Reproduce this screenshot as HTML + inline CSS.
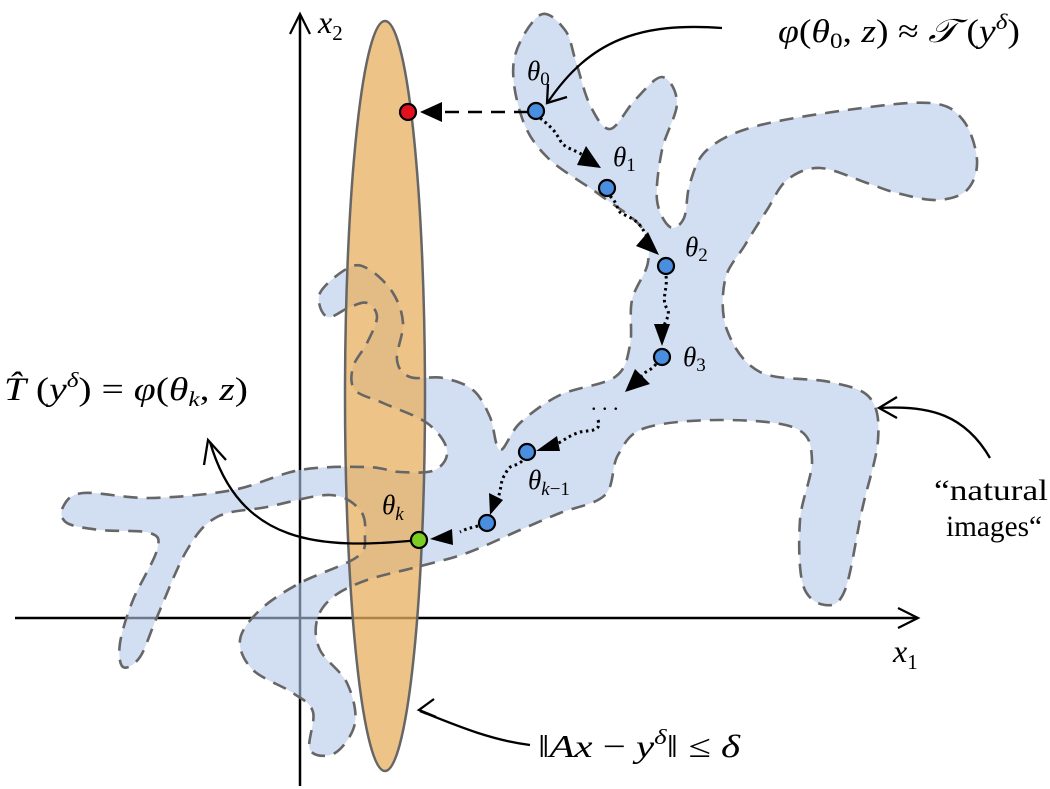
<!DOCTYPE html>
<html><head><meta charset="utf-8">
<style>
html,body{margin:0;padding:0;background:#fff;}
svg{display:block;}
text{font-family:"Liberation Serif",serif;fill:#000;}
.it{font-style:italic;}
</style></head>
<body>
<svg id="s" width="1050" height="789" viewBox="0 0 1050 789" xmlns="http://www.w3.org/2000/svg">
<!-- axes -->
<line x1="300" y1="786" x2="300" y2="16" stroke="#000" stroke-width="2.5"/>
<polyline points="290,34 300,14 310,34" fill="none" stroke="#000" stroke-width="2.2"/>
<line x1="15" y1="618" x2="918" y2="618" stroke="#000" stroke-width="2.5"/>
<polyline points="898,608 918,618 898,628" fill="none" stroke="#000" stroke-width="2.2"/>

<path id="blobfill" d="" fill="rgb(180,200,232)" fill-opacity="0.6"/>
<ellipse cx="385" cy="396" rx="40" ry="375" fill="rgb(232,175,95)" fill-opacity="0.75" stroke="#666" stroke-width="2.5"/>
<path id="blobline" d="" fill="none" stroke="#666" stroke-width="2.6" stroke-dasharray="14 9"/>

<!-- dashed arrow to red -->
<line x1="528" y1="112" x2="440" y2="112" stroke="#000" stroke-width="2.5" stroke-dasharray="14 9"/>
<polygon points="420,112 442,102 442,122" fill="#000"/>

<!-- dotted wavy paths -->
<g fill="none" stroke="#000" stroke-width="3" stroke-dasharray="2.5 3.5">
<path d="M540,118 C555,130 555,132 560,140 C565,150 575,148 590,160"/>
<path d="M610,196 C620,205 615,212 625,215 C640,222 640,225 648,238"/>
<path d="M666,276 C668,290 660,300 668,310 C670,318 663,322 664,330"/>
<path d="M656,364 C650,372 645,370 640,378"/>
<path d="M598,420 C602,432 590,430 580,432 C568,436 565,440 555,445"/>
<path d="M522,461 C515,468 510,462 505,475 C500,480 502,490 497,500"/>
<path d="M478,526 C470,528 468,528 460,532"/>
</g>
<g fill="#000">
<polygon points="601,168 586,146 577,165"/>
<polygon points="659,255 648,232 636,246"/>
<polygon points="662,346 654,324 670,324"/>
<polygon points="625,392 650,384 635,369"/>
<polygon points="536,451 557,436 560,451"/>
<polygon points="490,515 489,493 503,500"/>
<polygon points="430,539 452,529 453,545"/>
</g>
<text x="591" y="410" style="font-size:22px">. . .</text>

<!-- curved arrows -->
<g fill="none" stroke="#000" stroke-width="2.3">
<path d="M722,28 C640,22 590,40 548,102"/>
<polyline points="548,84 547,103 567,97"/>
<path d="M990,458 C965,415 930,405 880,408"/>
<polyline points="897,397 879,408 897,418"/>
<path d="M530,745 C490,740 455,725 420,711"/>
<polyline points="434,699 419,710 436,717"/>
<path d="M419,540 C320,550 240,545 210,442"/>
<polyline points="204,465 208,440 226,460"/>
</g>

<!-- nodes -->
<g stroke="#000" stroke-width="2.2">
<circle cx="408" cy="112" r="8" fill="#e3101f"/>
<circle cx="536" cy="111" r="8" fill="#4a8fdf"/>
<circle cx="607" cy="188" r="8" fill="#4a8fdf"/>
<circle cx="666" cy="266" r="8" fill="#4a8fdf"/>
<circle cx="662" cy="357" r="8" fill="#4a8fdf"/>
<circle cx="527" cy="452" r="8" fill="#4a8fdf"/>
<circle cx="487" cy="523" r="8" fill="#4a8fdf"/>
<circle cx="419" cy="540" r="8" fill="#7ccd21"/>
</g>

<!-- labels -->
<text class="it" x="527" y="80" style="font-size:27px">θ<tspan style="font-style:normal;font-size:19px" dy="5">0</tspan></text>
<text class="it" x="613" y="166" style="font-size:27px">θ<tspan style="font-style:normal;font-size:19px" dy="5">1</tspan></text>
<text class="it" x="685" y="256" style="font-size:27px">θ<tspan style="font-style:normal;font-size:19px" dy="5">2</tspan></text>
<text class="it" x="683" y="366" style="font-size:27px">θ<tspan style="font-style:normal;font-size:19px" dy="5">3</tspan></text>
<text class="it" x="528" y="489" style="font-size:27px">θ<tspan style="font-size:19px" dy="6">k</tspan><tspan style="font-style:normal;font-size:19px">−1</tspan></text>
<text class="it" x="382" y="514" style="font-size:27px">θ<tspan style="font-size:19px" dy="6">k</tspan></text>

<text class="it" x="318" y="33" style="font-size:32px">x<tspan style="font-style:normal;font-size:21px" dy="7">2</tspan></text>
<text class="it" x="893" y="662" style="font-size:32px">x<tspan style="font-style:normal;font-size:21px" dy="7">1</tspan></text>

<text x="778" y="42" textLength="242" lengthAdjust="spacingAndGlyphs" style="font-size:33px"><tspan class="it">φ</tspan>(<tspan class="it">θ</tspan><tspan style="font-size:22px" dy="6">0</tspan><tspan dy="-6">, </tspan><tspan class="it">z</tspan>) ≈ <tspan class="it">𝒯</tspan> (<tspan class="it">y</tspan><tspan class="it" style="font-size:22px" dy="-13">δ</tspan><tspan dy="13">)</tspan></text>

<text x="4" y="400" textLength="244" lengthAdjust="spacingAndGlyphs" style="font-size:33px"><tspan class="it">T̂</tspan> (<tspan class="it">y</tspan><tspan class="it" style="font-size:21px" dy="-13">δ</tspan><tspan dy="13">) = </tspan><tspan class="it">φ</tspan>(<tspan class="it">θ</tspan><tspan class="it" style="font-size:21px" dy="6">k</tspan><tspan dy="-6">, </tspan><tspan class="it">z</tspan>)</text>

<text x="934" y="500" textLength="114" lengthAdjust="spacingAndGlyphs" style="font-size:30px">“natural</text>
<text x="946" y="536" textLength="96" lengthAdjust="spacingAndGlyphs" style="font-size:30px">images“</text>

<text x="538" y="757" textLength="202" lengthAdjust="spacingAndGlyphs" style="font-size:32px">‖<tspan class="it">Ax</tspan> − <tspan class="it">y</tspan><tspan class="it" style="font-size:21px" dy="-13">δ</tspan><tspan dy="13">‖ ≤ </tspan><tspan class="it">δ</tspan></text>
</svg>
<script>
var P=[[540,15],[565,30],[576,62],[590,105],[610,129],[635,100],[662,77],[677,103],[662,150],[657,200],[670,227],[684,218],[690,183],[707,150],[753,127],[847,110],[930,103],[963,120],[977,160],[967,190],[937,200],[897,193],[867,183],[820,168],[787,180],[767,210],[745,245],[725,280],[727,330],[760,372],[830,382],[870,398],[878,440],[862,510],[845,590],[825,605],[803,585],[800,520],[812,460],[795,428],[720,420],[645,428],[618,455],[605,495],[560,513],[520,530],[467,553],[417,567],[367,580],[333,597],[317,620],[320,650],[347,683],[355,723],[335,753],[310,750],[313,712],[293,693],[253,670],[240,640],[260,610],[300,583],[357,557],[365,535],[360,510],[330,495],[267,507],[217,517],[187,550],[157,617],[140,657],[123,667],[120,643],[133,600],[157,550],[150,533],[100,530],[67,523],[63,507],[83,493],[150,498],[233,490],[300,470],[367,467],[400,472],[435,470],[447,450],[427,423],[383,403],[355,390],[353,367],[367,343],[377,317],[367,303],[350,307],[327,317],[320,293],[350,267],[370,270],[393,293],[403,323],[397,360],[410,377],[443,378],[473,390],[490,417],[500,450],[520,423],[560,395],[615,377],[630,345],[632,300],[648,262],[642,228],[600,195],[548,158],[522,118],[514,60]];
var n=P.length,d="M"+P[0][0]+","+P[0][1];
for(var i=0;i<n;i++){var p0=P[(i-1+n)%n],p1=P[i],p2=P[(i+1)%n],p3=P[(i+2)%n];
var c1=[p1[0]+(p2[0]-p0[0])/6,p1[1]+(p2[1]-p0[1])/6],c2=[p2[0]-(p3[0]-p1[0])/6,p2[1]-(p3[1]-p1[1])/6];
d+=" C"+c1[0].toFixed(1)+","+c1[1].toFixed(1)+" "+c2[0].toFixed(1)+","+c2[1].toFixed(1)+" "+p2[0]+","+p2[1];}
d+="Z";
document.getElementById("blobfill").setAttribute("d",d);
document.getElementById("blobline").setAttribute("d",d);
</script>
</body></html>
